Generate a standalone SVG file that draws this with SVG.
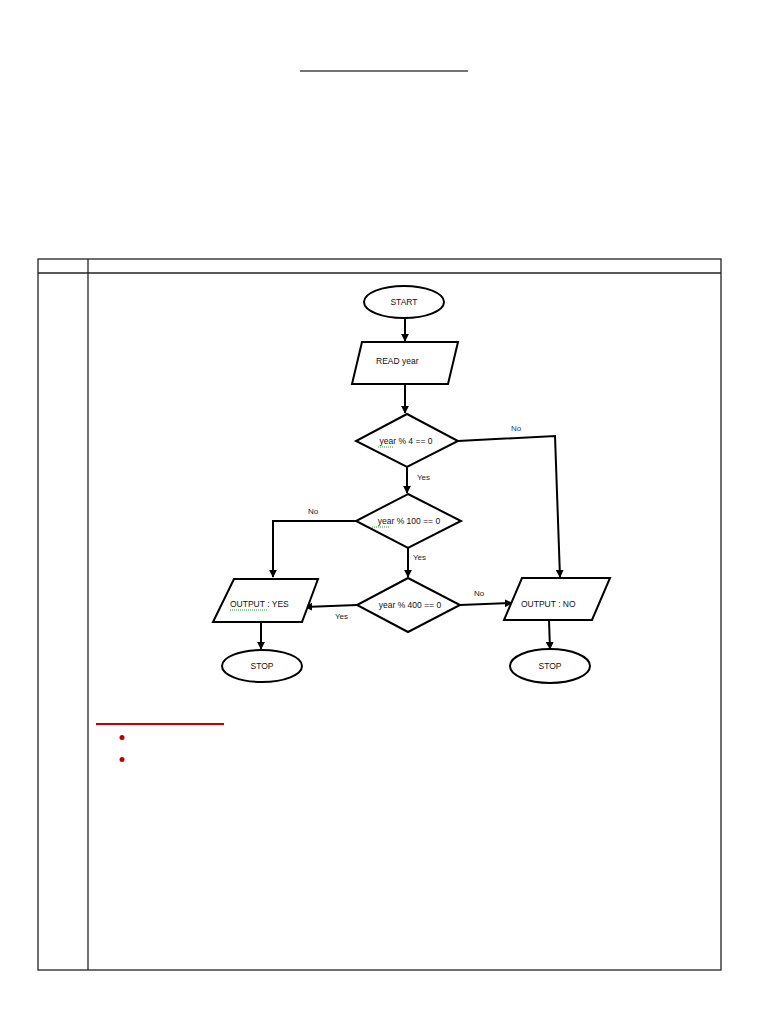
<svg xmlns="http://www.w3.org/2000/svg" width="768" height="1024" viewBox="0 0 768 1024">
<style>
.shape{fill:#fff;stroke:#000;stroke-width:2}
.conn{fill:none;stroke:#000;stroke-width:2}
.t{font-family:"Liberation Sans",Arial,sans-serif;font-size:8.5px;fill:#111}
.lbl{font-family:"Liberation Sans",Arial,sans-serif;font-size:8px;fill:#222}
.blue{fill:#1f3a8a}
.tbl{fill:none;stroke:#222;stroke-width:1.3}
.sq{stroke:#3a9a3a;stroke-width:1;stroke-dasharray:1 1}
</style>
<defs>
<marker id="ah" viewBox="0 0 10 10" refX="9" refY="5" markerWidth="4" markerHeight="4" orient="auto">
<path d="M0,0 L10,5 L0,10 z" fill="#000"/>
</marker>
</defs>
<rect width="768" height="1024" fill="#fff"/>
<line x1="300" y1="71" x2="468" y2="71" stroke="#444" stroke-width="1.5"/>
<g id="table">
<rect class="tbl" x="38" y="259" width="683" height="711"/>
<line class="tbl" x1="38" y1="273" x2="721" y2="273"/>
<line class="tbl" x1="88" y1="259" x2="88" y2="970"/>
</g>
<g id="connectors">
<line class="conn" x1="405" y1="318" x2="405" y2="341" marker-end="url(#ah)"/>
<line class="conn" x1="405" y1="384" x2="405" y2="413" marker-end="url(#ah)"/>
<polyline class="conn" points="458,441 555,436 560,577" marker-end="url(#ah)"/>
<line class="conn" x1="407" y1="467" x2="407" y2="493" marker-end="url(#ah)"/>
<polyline class="conn" points="356,521 273,521 273,577" marker-end="url(#ah)"/>
<line class="conn" x1="408" y1="548" x2="408" y2="577" marker-end="url(#ah)"/>
<line class="conn" x1="357" y1="605" x2="305" y2="607" marker-end="url(#ah)"/>
<line class="conn" x1="460" y1="605" x2="512" y2="603" marker-end="url(#ah)"/>
<line class="conn" x1="261" y1="622" x2="261" y2="649" marker-end="url(#ah)"/>
<line class="conn" x1="549" y1="620" x2="550" y2="649" marker-end="url(#ah)"/>
<text class="lbl blue" x="511" y="431">No</text>
<text class="lbl" x="417" y="480">Yes</text>
<text class="lbl" x="308" y="514">No</text>
<text class="lbl" x="413" y="560">Yes</text>
<text class="lbl" x="335" y="619">Yes</text>
<text class="lbl" x="474" y="596">No</text>
</g>
<g id="start">
<ellipse class="shape" cx="404" cy="302" rx="40" ry="16"/>
<text class="t" x="404" y="305" text-anchor="middle">START</text>
</g>
<g id="read">
<polygon class="shape" points="362,342 458,342 448,384 352,384"/>
<text class="t" x="376" y="364">READ year</text>
</g>
<g id="d1">
<polygon class="shape" points="407,414 458,441 407,467 356,441"/>
<text class="t" x="406" y="444" text-anchor="middle">year % 4 == 0</text>
<line class="sq" x1="378" y1="447" x2="394" y2="447"/>
</g>
<g id="d2">
<polygon class="shape" points="408,494 461,521 408,548 356,521"/>
<text class="t" x="409" y="524" text-anchor="middle">year % 100 == 0</text>
<line class="sq" x1="372" y1="527" x2="389" y2="527"/>
</g>
<g id="d3">
<polygon class="shape" points="408,578 460,605 408,632 357,605"/>
<text class="t" x="410" y="608" text-anchor="middle">year % 400 == 0</text>
</g>
<g id="outyes">
<polygon class="shape" points="234,579 318,579 302,622 213,622"/>
<text class="t" x="230" y="607">OUTPUT : YES</text>
<line class="sq" x1="230" y1="610" x2="268" y2="610"/>
</g>
<g id="outno">
<polygon class="shape" points="522,578 610,578 592,620 504,620"/>
<text class="t" x="521" y="607">OUTPUT : NO</text>
</g>
<g id="stop1">
<ellipse class="shape" cx="262" cy="666" rx="40" ry="16"/>
<text class="t" x="262" y="669" text-anchor="middle">STOP</text>
</g>
<g id="stop2">
<ellipse class="shape" cx="550" cy="666" rx="40" ry="17"/>
<text class="t" x="550" y="669" text-anchor="middle">STOP</text>
</g>
<line x1="96" y1="724" x2="224" y2="724" stroke="#c00000" stroke-width="2"/>
<circle cx="122" cy="737.5" r="2.5" fill="#c00000"/>
<circle cx="122" cy="759.5" r="2.5" fill="#c00000"/>
</svg>
